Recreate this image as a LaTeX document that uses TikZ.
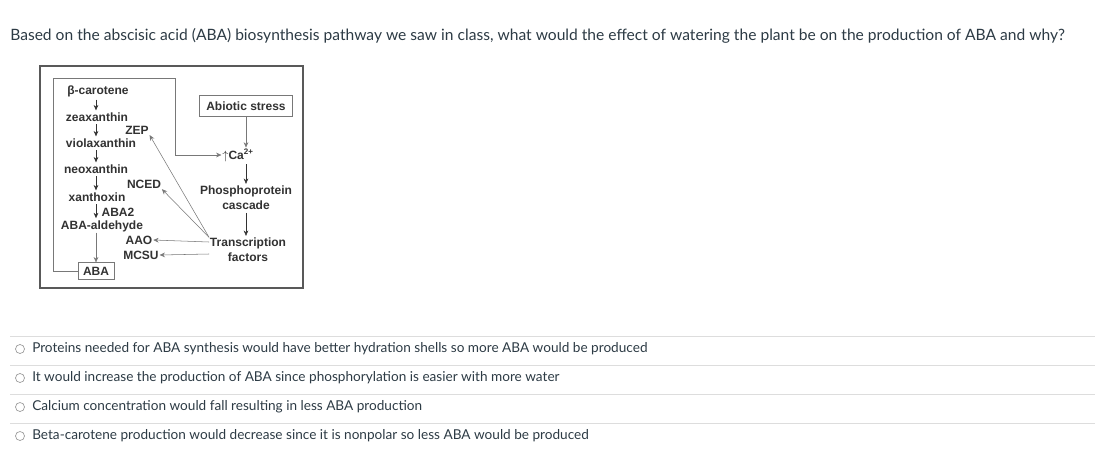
\documentclass[tikz,border=0pt]{standalone}
\usepackage{fontspec}
\setmainfont{Lato}
\newfontfamily\diagfont{Liberation Sans}
\usetikzlibrary{arrows.meta}
\definecolor{qtext}{RGB}{45,59,69}
\definecolor{dtext}{RGB}{50,50,50}
\definecolor{dline}{RGB}{120,120,120}
\definecolor{sepline}{RGB}{221,221,221}
\tikzset{
  lbl/.style={inner sep=0.5pt, text=dtext, font=\diagfont\bfseries\fontsize{9}{11.25}\selectfont},
  boxed/.style={lbl, draw=dline, inner sep=2.5pt},
  arr/.style={draw=dline, -{Stealth[length=4pt,width=3.5pt]}},
  stub/.style={arr, draw=dtext, shorten <=1.5pt, shorten >=1pt},
  opt/.style={anchor=west, inner sep=0pt, text=qtext, font=\fontsize{10.2}{12}\selectfont},
  radio/.style={draw=gray!80, line width=0.5pt}
}
\begin{document}
\begin{tikzpicture}[x=0.75pt,y=0.75pt,yscale=-1,xscale=1]
\useasboundingbox (0,0) rectangle (1095,450);
\fill[white] (0,0) rectangle (1095,450);

% question
\node[anchor=west, inner sep=0pt, text=qtext, font=\fontsize{11.7}{14}\selectfont] (q) at (10,36) {Based on the abscisic acid (ABA) biosynthesis pathway we saw in class, what would the effect of watering the plant be on the production of ABA and why?};

% figure frame
\draw[draw=gray!70!black, line width=1.2pt] (40,66) rectangle (303,288);

% biosynthesis pathway
\node[lbl] (bc) at (98,91) {β-carotene};
\node[lbl] (zea) at (97,117) {zeaxanthin};
\node[lbl] (zep) at (137,130) {ZEP};
\node[lbl] (vio) at (101,143) {violaxanthin};
\node[lbl] (neo) at (96,169) {neoxanthin};
\node[lbl] (nced) at (144,184) {NCED};
\node[lbl] (xan) at (97,197) {xanthoxin};
\node[lbl] (aba2) at (118,212) {ABA2};
\node[lbl] (ald) at (102,226) {ABA-aldehyde};
\node[lbl] (aao) at (139,240) {AAO};
\node[lbl] (mcsu) at (141,255) {MCSU};
\node[boxed, minimum width=27pt, minimum height=12.5pt] (aba) at (96,271) {ABA};
\coordinate (ax) at (96,0);

\draw[stub] (bc.south -| ax) -- (zea.north -| ax);
\draw[stub] (zea.south -| ax) -- (vio.north -| ax);
\draw[stub] (vio.south -| ax) -- (neo.north -| ax);
\draw[stub] (neo.south -| ax) -- (xan.north -| ax);
\draw[stub] (xan.south -| ax) -- (ald.north -| ax);
\draw[arr] (ald.south -| ax) -- (aba.north -| ax);

% signalling side
\node[boxed, minimum width=70pt, minimum height=15.5pt] (stress) at (246,106) {Abiotic stress};
\node[lbl] (ca) at (238,155) {$\uparrow$Ca\textsuperscript{2+}};
\node[lbl, align=center] (phos) at (246,198) {Phosphoprotein\\cascade};
\node[lbl, align=center] (tf) at (248,250) {Transcription\\factors};
\coordinate (ltop) at (53,78);
\coordinate (rtop) at (175,78);

\draw[arr] (stress.south) -- (stress.south |- ca.north);
\draw[stub] (ca.south -| stress) -- (phos.north -| stress);
\draw[stub] (phos.south -| stress) -- (tf.north -| stress);
\draw[arr] (aba.west) -| (ltop) -- (rtop) |- (ca.west);

\draw[arr] ([yshift=-9.5pt]tf.west) -- (zep.south east);
\draw[arr] ([yshift=-9.5pt]tf.west) -- (nced.south east);
\draw[arr] ([yshift=-6pt]tf.west) -- (aao.east);
\draw[arr] ([yshift=3pt]tf.west) -- (mcsu.east);

% answer options
\foreach \y in {336,365,394,423}
  \draw[sepline] (10,\y) -- (1095,\y);
\foreach \y in {349,378,407,436}
  \draw[radio] (20,\y) circle (4.5);
\node[opt] (o1) at (32,349) {Proteins needed for ABA synthesis would have better hydration shells so more ABA would be produced};
\node[opt] (o2) at (32,378) {It would increase the production of ABA since phosphorylation is easier with more water};
\node[opt] (o3) at (32,407) {Calcium concentration would fall resulting in less ABA production};
\node[opt] (o4) at (32,436) {Beta-carotene production would decrease since it is nonpolar so less ABA would be produced};
\end{tikzpicture}
\end{document}
